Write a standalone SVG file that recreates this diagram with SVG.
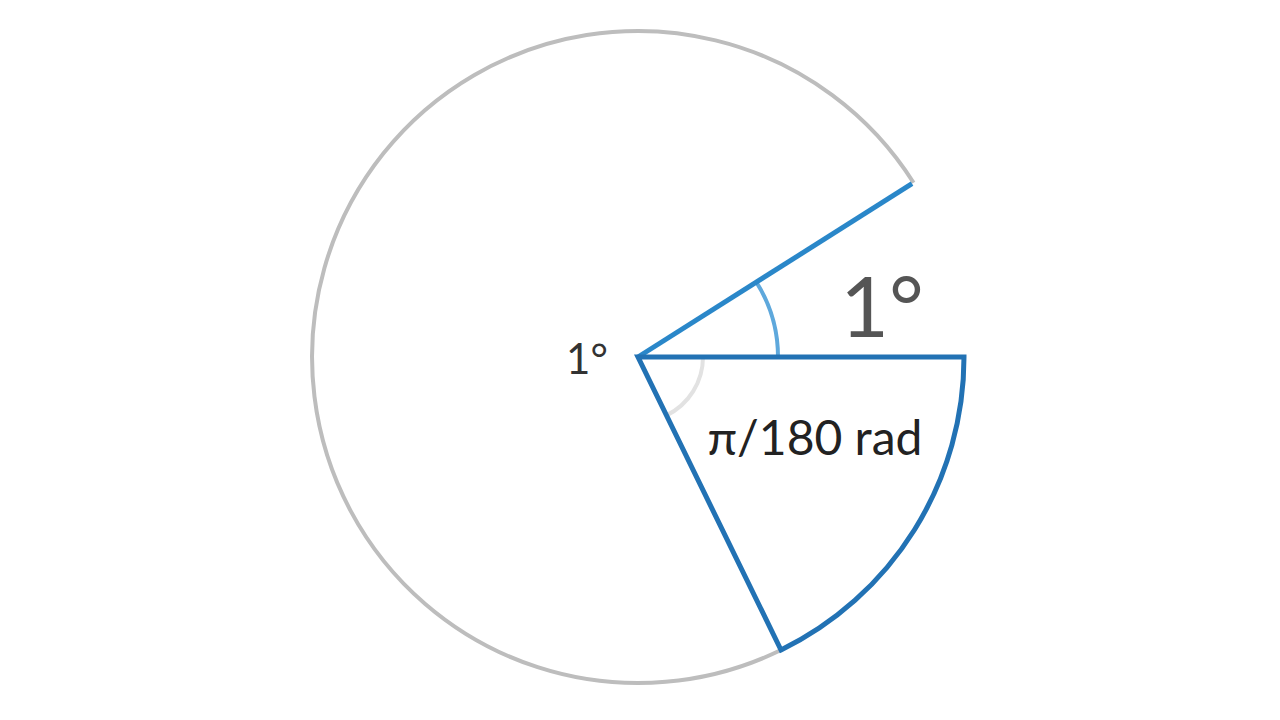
<svg xmlns="http://www.w3.org/2000/svg" width="1280" height="720" viewBox="0 0 1280 720">
<style>
.lbl{font-family:Lato,"Open Sans","Liberation Sans",sans-serif;}
</style>
<rect width="1280" height="720" fill="#ffffff"/>
<g id="circle">
<path d="M913.6,182.8 A326,326 0 1 0 781,650" fill="none" stroke="#bdbdbd" stroke-width="4"/>
</g>
<g id="angle-marks">
<path d="M778,357 A140,140 0 0 0 756.4,282.2" fill="none" stroke="#5ea8dc" stroke-width="4"/>
<path d="M703,357 A65,65 0 0 1 666.5,415.4" fill="none" stroke="#e2e2e2" stroke-width="4"/>
</g>
<g id="connectors">
<line x1="638" y1="357" x2="912" y2="183.7" stroke="#2a87c9" stroke-width="5" stroke-linecap="butt"/>
<path d="M638,357 L964,357 A326,326 0 0 1 781,650 Z" fill="none" stroke="#2272b4" stroke-width="5" stroke-linejoin="miter"/>
</g>
<g id="labels">
<text class="lbl" x="587" y="374" font-size="42" fill="#333333" text-anchor="middle">1°</text>
<text class="lbl" x="882" y="337" font-size="84" fill="#555555" text-anchor="middle">1°</text>
<text class="lbl" x="815" y="455" font-size="48" fill="#222222" text-anchor="middle">π/180 rad</text>
</g>
</svg>
